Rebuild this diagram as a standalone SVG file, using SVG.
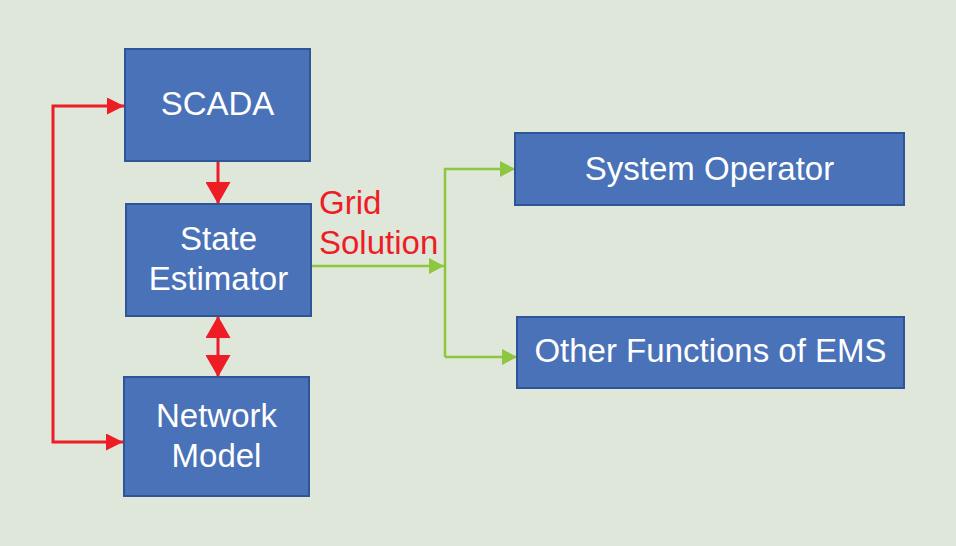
<svg xmlns="http://www.w3.org/2000/svg" width="956" height="546" viewBox="0 0 956 546">
<style>
.box{fill:#4A72B8;stroke:#2F5597;stroke-width:2}
.t{font-family:"Liberation Sans",Arial,sans-serif;font-size:33px;fill:#FFFFFF;text-anchor:middle}
.lbl{font-family:"Liberation Sans",Arial,sans-serif;font-size:33px;fill:#EE1C25}
.red{stroke:#EE1C25;stroke-width:3;fill:none}
.green{stroke:#8DC63F;stroke-width:2.5;fill:none}
</style>
<defs>
<marker id="ar" viewBox="0 0 10 10" refX="10" refY="5" markerWidth="17" markerHeight="17" markerUnits="userSpaceOnUse" orient="auto-start-reverse"><path d="M0,0 L10,5 L0,10 Z" fill="#EE1C25"/></marker>
<marker id="arb" viewBox="0 0 10 10" refX="10" refY="5" markerWidth="22" markerHeight="25" markerUnits="userSpaceOnUse" orient="auto-start-reverse" preserveAspectRatio="none"><path d="M0,0 L10,5 L0,10 Z" fill="#EE1C25"/></marker>
<marker id="ag" viewBox="0 0 10 10" refX="10" refY="5" markerWidth="15" markerHeight="16" markerUnits="userSpaceOnUse" orient="auto" preserveAspectRatio="none"><path d="M0,0 L10,5 L0,10 Z" fill="#8DC63F"/></marker>
</defs>
<rect width="956" height="546" fill="#DFE6DA"/>
<g id="connectors">
<path class="red" d="M124,106 H53 V442 H123" marker-start="url(#ar)" marker-end="url(#ar)"/>
<path class="red" d="M218,161 V204" marker-end="url(#arb)"/>
<path class="red" d="M218,316 V377" marker-start="url(#arb)" marker-end="url(#arb)"/>
<path class="green" d="M311,266 H444"  marker-end="url(#ag)"/>
<path class="green" d="M445,357 V169 H515" marker-end="url(#ag)"/>
<path class="green" d="M445,357 H517" marker-end="url(#ag)"/>
<text class="lbl" x="319" y="214">Grid</text>
<text class="lbl" x="319" y="254">Solution</text>
</g>
<g id="scada"><rect class="box" x="125" y="49" width="185" height="112"/><text class="t" x="217.5" y="115">SCADA</text></g>
<g id="state-estimator"><rect class="box" x="126" y="204" width="185" height="112"/><text class="t" x="218.5" y="250">State</text><text class="t" x="218.5" y="290">Estimator</text></g>
<g id="network-model"><rect class="box" x="124" y="377" width="185" height="119"/><text class="t" x="216.5" y="427">Network</text><text class="t" x="216.5" y="467">Model</text></g>
<g id="system-operator"><rect class="box" x="515" y="133" width="389" height="72"/><text class="t" x="709.5" y="180">System Operator</text></g>
<g id="other-functions"><rect class="box" x="517" y="317" width="387" height="71"/><text class="t" x="710.5" y="362">Other Functions of EMS</text></g>
</svg>
